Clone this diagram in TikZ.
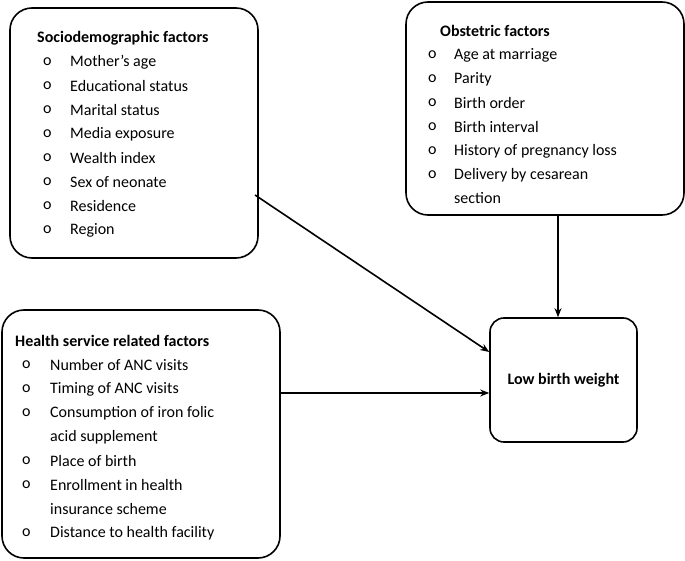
\documentclass[tikz,border=0pt]{standalone}
\usepackage{fontspec}
\setmainfont{Carlito}
\usetikzlibrary{arrows.meta}
\tikzset{
  factor/.style={draw=black, line width=1.6pt, rounded corners=22pt, inner sep=0pt},
  item/.style={anchor=west, inner sep=0pt, font=\fontsize{16pt}{18pt}\selectfont},
  head/.style={item, font=\fontsize{16pt}{18pt}\selectfont\bfseries},
  link/.style={line width=1.6pt, -{Stealth[length=9pt,width=7pt]}}
}
\begin{document}
\begin{tikzpicture}[x=1pt, y=-1pt]
	\useasboundingbox (0,0) rectangle (685,561);
	% boxes
	\node [factor, minimum width=248pt, minimum height=250pt] (socio) at (134,133) {};
	\node [factor, minimum width=278pt, minimum height=213pt] (obst) at (545,108.5) {};
	\node [factor, minimum width=278pt, minimum height=248pt] (health) at (141,434) {};
	\node [factor, minimum width=147pt, minimum height=124pt, rounded corners=14pt] (lbw) at (563.5,380) {};
	\node [head, anchor=center] (lbwtext) at (lbw.center) {Low birth weight};
	% sociodemographic
	\node [head] (sociotitle) at (37,38) {Sociodemographic factors};
	\foreach \t [count=\i] in {Mother’s age, Educational status, Marital status, Media exposure, Wealth index, Sex of neonate, Residence, Region} {
		\node [item] (sb\i) at (43,38+24*\i) {o};
		\node [item] (si\i) at (70,38+24*\i) {\t};
	}
	% obstetric
	\node [head] (obsttitle) at (440,31) {Obstetric factors};
	\foreach \t [count=\i] in {Age at marriage, Parity, Birth order, Birth interval, History of pregnancy loss, Delivery by cesarean} {
		\node [item] (ob\i) at (428,31+24*\i) {o};
		\node [item] (oi\i) at (454,31+24*\i) {\t};
	}
	\node [item] (oi7) at (454,198) {section};
	% health service
	\node [head] (healthtitle) at (15,341) {Health service related factors};
	\foreach \t/\y in {Number of ANC visits/365, Timing of ANC visits/389, Consumption of iron folic/413, Place of birth/461, Enrollment in health/485, Distance to health facility/533} {
		\node [item] (hb\y) at (22,\y) {o};
		\node [item] (hi\y) at (50,\y) {\t};
	}
	\node [item] (hi437) at (50,437) {acid supplement};
	\node [item] (hi509) at (50,509) {insurance scheme};
	% connectors
	\coordinate (s1) at (255,195);
	\coordinate (o1) at (obst.south -| 558,0);
	\coordinate (h1) at (health.east |- 0,393);
	\draw [link] (s1) -- ([yshift=28pt]lbw.west);
	\draw [link] (o1) -- (lbw.north -| o1);
	\draw [link] (h1) -- (lbw.west |- h1);
\end{tikzpicture}
\end{document}
